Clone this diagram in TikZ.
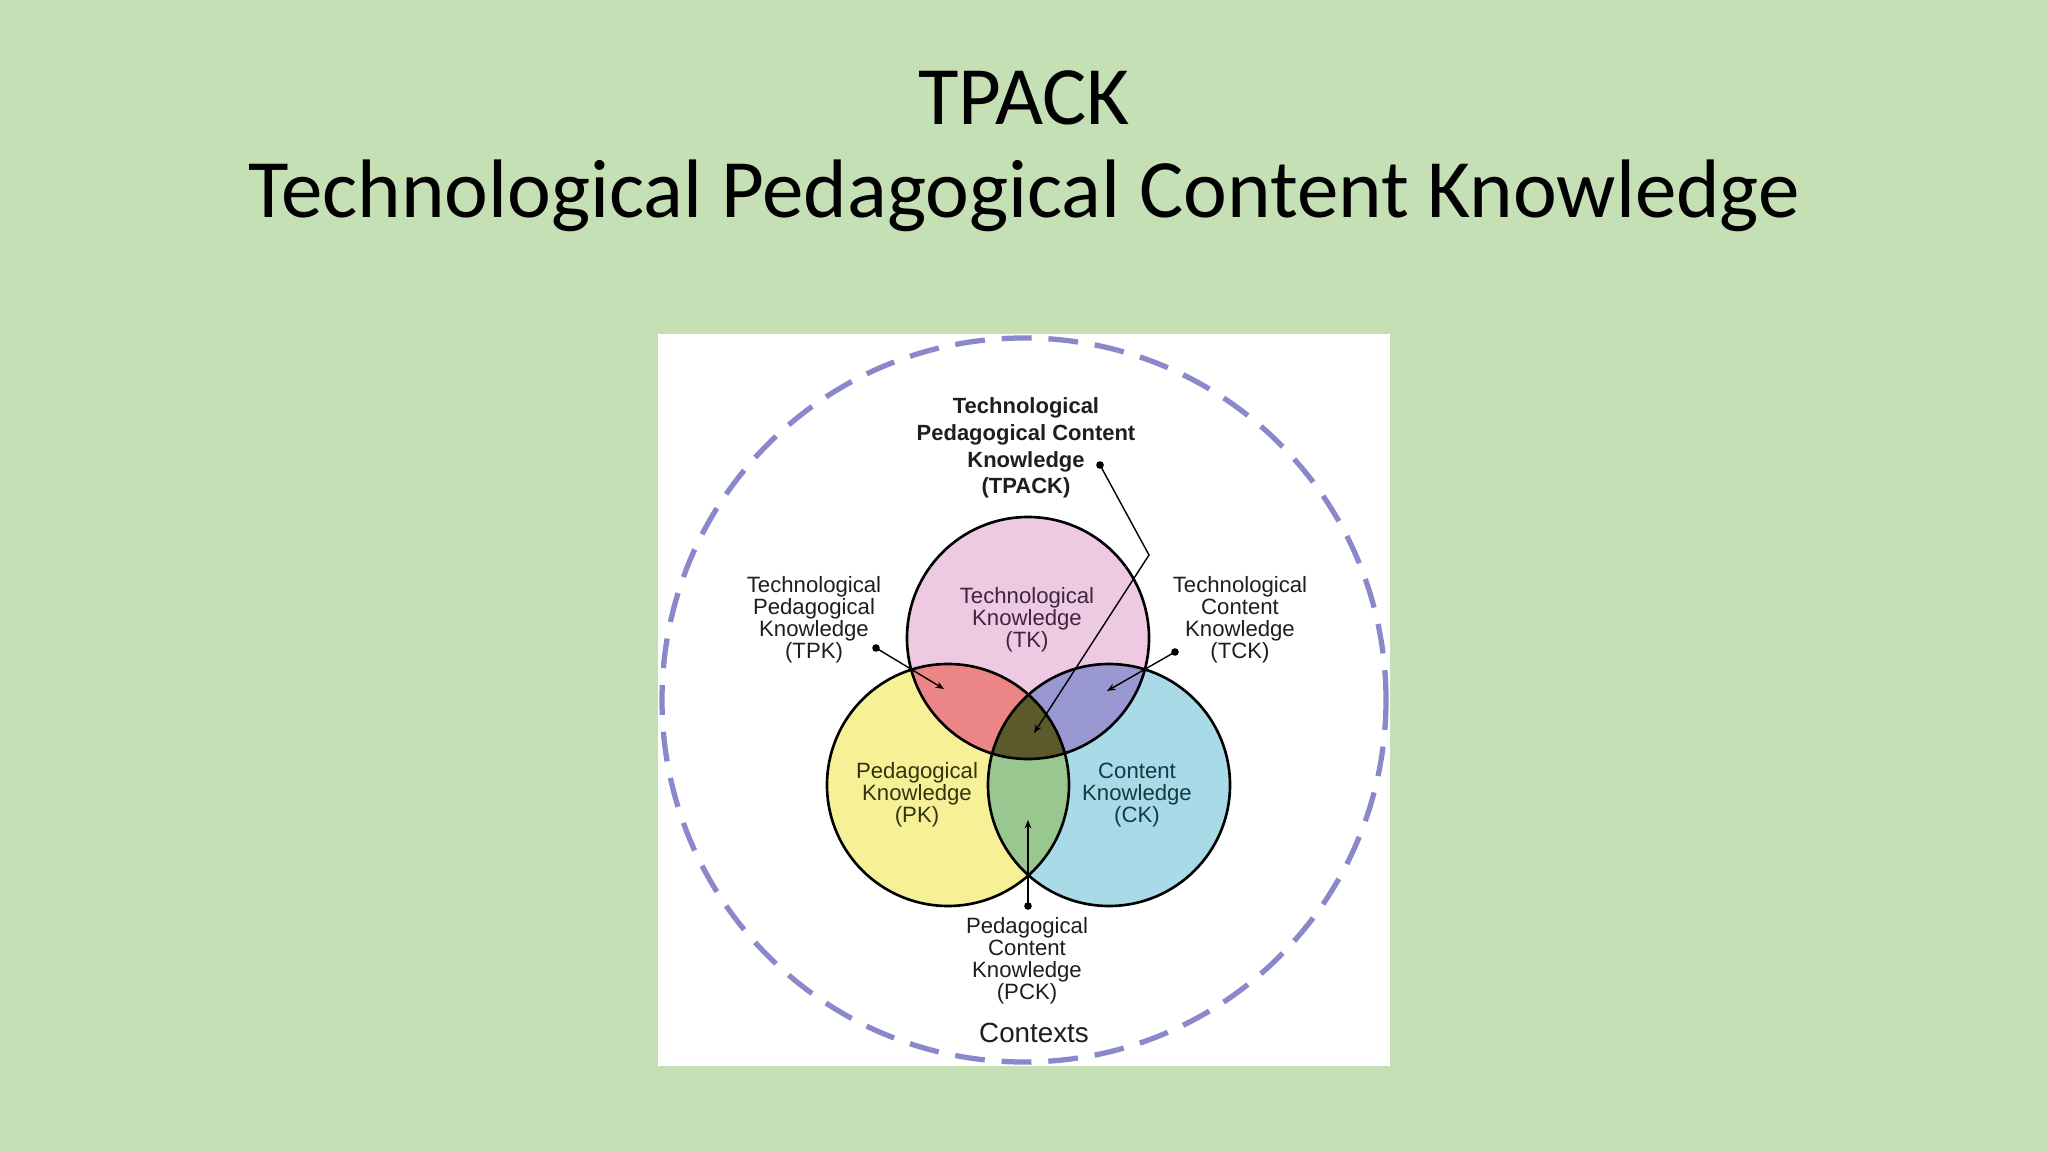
\documentclass[tikz,border=0pt]{standalone}
\usepackage{fontspec}
\setmainfont{Liberation Sans}
\newfontfamily\titlefont{Carlito}
\usetikzlibrary{arrows.meta}
\definecolor{bgcol}{HTML}{C5E0B4}
\definecolor{ctxcol}{HTML}{8A88CA}
\definecolor{tkcol}{HTML}{EDC9E2}
\definecolor{pkcol}{HTML}{F6F096}
\definecolor{ckcol}{HTML}{A8DAE8}
\definecolor{tpkcol}{HTML}{EC8686}
\definecolor{tckcol}{HTML}{9A98D2}
\definecolor{pckcol}{HTML}{98C890}
\definecolor{allcol}{HTML}{5C5A2A}
\definecolor{labcol}{HTML}{1E1E1E}
\definecolor{tktext}{HTML}{3E2440}
\definecolor{pktext}{HTML}{33330F}
\definecolor{cktext}{HTML}{173845}
\begin{document}
\begin{tikzpicture}[x=0.01cm,y=-0.01cm,
  titlestyle/.style={font=\titlefont\fontsize{23.6}{28}\selectfont,text=black,inner sep=0},
  lab/.style={align=center,font=\fontsize{6.3}{6.3}\selectfont,text=labcol,inner sep=0},
  boldlab/.style={align=center,font=\bfseries\fontsize{6.25}{7.6}\selectfont,text=labcol,inner sep=0},
  ctx/.style={draw=ctxcol,line width=1.5pt,dash pattern=on 8.5pt off 4.8pt},
  ring/.style={draw=black,line width=0.75pt},
  conn/.style={draw=black,line width=0.4pt,-{Stealth[length=2.4pt,width=1.9pt]}},
  dotc/.style={fill=black}]
\useasboundingbox (0,0) rectangle (2048,1152);
\fill[bgcol] (0,0) rectangle (2048,1152);
\node[titlestyle,anchor=base] (t1) at (1024,125) {TPACK};
\node[titlestyle,anchor=base] (t2) at (1024,218) {Technological Pedagogical Content Knowledge};
\fill[white] (658,334) rectangle (1390,1066);
\draw[ctx] (1024,700) circle (362);
\coordinate (cTK) at (1028,638);
\coordinate (cPK) at (948,785);
\coordinate (cCK) at (1109,785);
% base fills
\fill[tkcol] (cTK) circle (121);
\fill[pkcol] (cPK) circle (121);
\fill[ckcol] (cCK) circle (121);
% pairwise
\begin{scope}\clip (cTK) circle (121); \fill[tpkcol] (cPK) circle (121); \end{scope}
\begin{scope}\clip (cTK) circle (121); \fill[tckcol] (cCK) circle (121); \end{scope}
\begin{scope}\clip (cPK) circle (121); \fill[pckcol] (cCK) circle (121); \end{scope}
\begin{scope}\clip (cTK) circle (121); \clip (cPK) circle (121); \fill[allcol] (cCK) circle (121); \end{scope}
\draw[ring] (cTK) circle (121);
\draw[ring] (cPK) circle (121);
\draw[ring] (cCK) circle (121);
% circle labels
\node[lab,text=tktext] (TK) at (1027,620) {Technological\\Knowledge\\(TK)};
\node[lab,text=pktext] (PK) at (917,795) {Pedagogical\\Knowledge\\(PK)};
\node[lab,text=cktext] (CK) at (1137,795) {Content\\Knowledge\\(CK)};
% outer labels
\node[boldlab] (TPACK) at (1026,448) {Technological\\Pedagogical Content\\Knowledge\\(TPACK)};
\node[lab] (TPK) at (814,620) {Technological\\Pedagogical\\Knowledge\\(TPK)};
\node[lab] (TCK) at (1240,620) {Technological\\Content\\Knowledge\\(TCK)};
\node[lab] (PCK) at (1027,961) {Pedagogical\\Content\\Knowledge\\(PCK)};
\node[lab,font=\fontsize{7.9}{9}\selectfont] (CTX) at (1034,1033) {Contexts};
% connectors
\coordinate (dTPACK) at (1100,465);
\coordinate (kTPACK) at (1149,555);
\coordinate (aTPACK) at (1034,733);
\coordinate (dTPK) at (876,648);
\coordinate (aTPK) at (944,689);
\coordinate (dTCK) at (1175,652);
\coordinate (aTCK) at (1107,691);
\coordinate (dPCK) at (1028,906);
\coordinate (aPCK) at (1028,820);
\draw[conn] (dTPACK) -- (kTPACK) -- (aTPACK);
\draw[conn] (dTPK) -- (aTPK);
\draw[conn] (dTCK) -- (aTCK);
\draw[conn] (dPCK) -- (aPCK);
\foreach \d in {dTPACK,dTPK,dTCK,dPCK} \fill[dotc] (\d) circle (3.8);
\end{tikzpicture}
\end{document}
